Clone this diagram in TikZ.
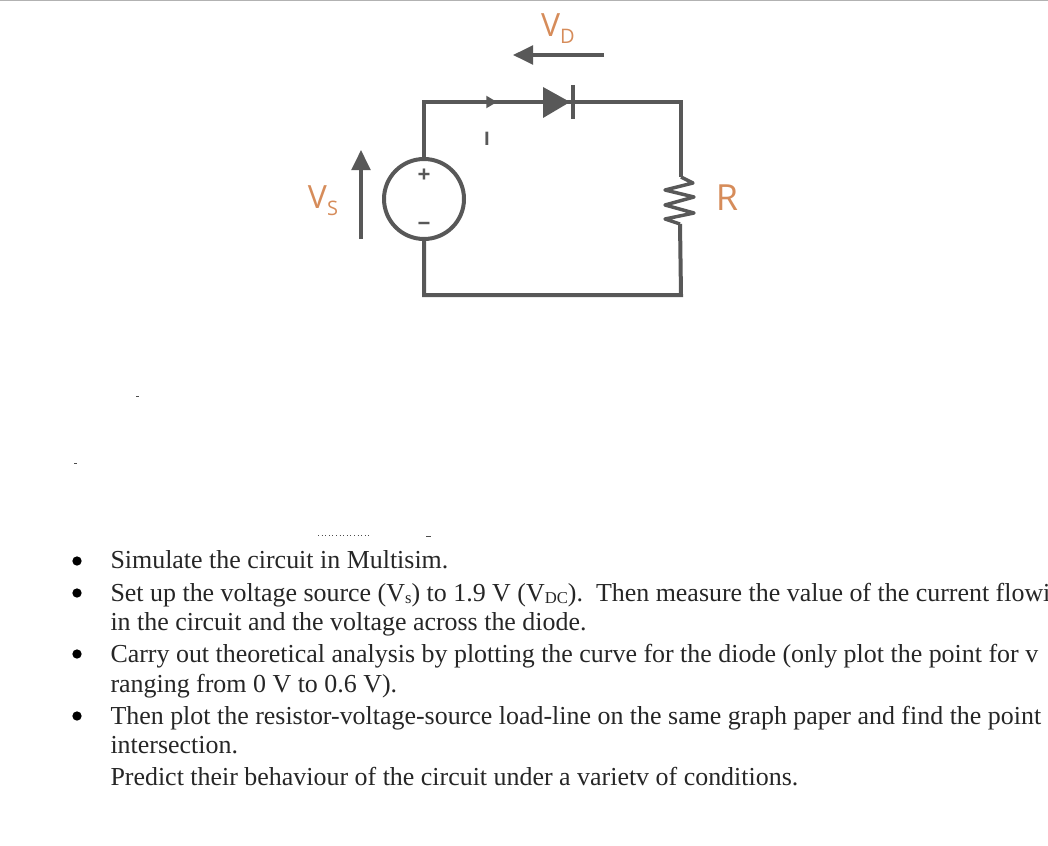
\documentclass[tikz,border=0pt]{standalone}
\usepackage{fontspec}
\setmainfont{Liberation Serif}
\newfontfamily\labelfont{Open Sans}
\usetikzlibrary{arrows.meta}
\definecolor{wirecol}{RGB}{88,88,88}
\definecolor{labelcol}{RGB}{214,140,90}
\definecolor{inkcol}{RGB}{38,38,38}
\newcommand{\lowtxt}[1]{\raisebox{-0.2ex}{\fontsize{12.5}{13}\selectfont #1}}
\tikzset{
  every picture/.style={line width=0.75pt},
  wire/.style={draw=wirecol,line width=3pt},
  volt/.style={draw=wirecol,line width=2.4pt,-{Triangle[length=15pt,width=14pt]}},
  sign/.style={text=wirecol,font=\labelfont\bfseries\fontsize{17}{17}\selectfont,inner sep=0pt},
  labeltxt/.style={text=labelcol,font=\labelfont\fontsize{24}{24}\selectfont,inner sep=0pt},
  line/.style={anchor=base west,inner sep=0pt,text=inkcol,font=\fontsize{19.45}{21}\selectfont},
  bullet/.style={circle,fill=black,inner sep=0pt,minimum size=7pt},
  speck/.style={draw=black!70,line width=0.7pt}
}
\begin{document}
\begin{tikzpicture}[x=0.75pt,y=0.75pt,yscale=-1,xscale=1]
	\useasboundingbox[clip] (0,0) rectangle (1048,845);
	%page edge
	\draw [draw=black!30,line width=1.5pt] (0,0.5) -- (1048,0.5);

	%Shape: Circle
	\node (src) at (424,199) [circle,wire,fill=white,minimum size=60pt,inner sep=0pt] {};
	\node (plus) at (424,176) [sign] {+};
	\node (minus) at (424,227) [sign] {\textminus};

	%Corners and ends
	\coordinate (cornerTL) at (424,102);
	\coordinate (cornerTR) at (681,102);
	\coordinate (cornerBR) at (681,295);
	\coordinate (cornerBL) at (424,295);
	\coordinate (dioBarT) at (573,85);
	\coordinate (dioBarB) at (573,119);
	\coordinate (resTop) at (681,177);
	\coordinate (resBot) at (680,224);

	%Straight Lines
	\draw [wire,line join=miter] (src.north) -- (cornerTL) -- (cornerTR) -- (resTop);
	\draw [wire,line join=miter] (resBot) -- (cornerBR) -- (cornerBL) -- (src.south);

	%Shape: Diode
	\fill [wirecol] (543,87) -- (570,102) -- (543,118) -- cycle;
	\draw [wire,line width=2.6pt] (dioBarT) -- (dioBarB);

	%Shape: Resistor
	\draw [wire,line width=2.6pt,line join=round] (resTop) -- (693,183) -- (665,190) -- (694,197) -- (665,205) -- (694,213) -- (665,219) -- (resBot);

	%Current arrow
	\coordinate (curBack) at (480,102);
	\coordinate (curTip) at (497,102);
	\draw [draw=wirecol,line width=1.5pt,-{Triangle[length=8pt,width=9pt]}] (curBack) -- (curTip);

	%Voltage arrows
	\coordinate (vsBot) at (361,239);
	\coordinate (vsTop) at (361,150);
	\coordinate (vdRight) at (604,55);
	\coordinate (vdLeft) at (513,55);
	\draw [volt] (vsBot) -- (vsTop);
	\draw [volt] (vdRight) -- (vdLeft);

	% Text Node
	\node (vdtxt) at (558,29) [labeltxt] {V\raisebox{-0.4ex}{\fontsize{15}{15}\selectfont D}};
	\node (vstxt) at (323,201) [labeltxt] {V\raisebox{-0.4ex}{\fontsize{15}{15}\selectfont S}};
	\node (rtxt) at (727,198) [labeltxt,font=\labelfont\fontsize{27}{27}\selectfont] {R};
	\node (itxt) at (487,139) [text=wirecol,font=\labelfont\bfseries\fontsize{14}{14}\selectfont,inner sep=0pt] {I};

	%Specks
	\draw [speck] (136,396) -- (139,396);
	\draw [speck] (74,463) -- (77,463);
	\draw [speck,dotted] (318,535) -- (369,535);
	\draw [speck] (426,536) -- (431,536);

	% Bullets
	\node (bulA) at (77,561) [bullet] {};
	\node (bulB) at (77,593) [bullet] {};
	\node (bulC) at (77,654) [bullet] {};
	\node (bulD) at (77,716) [bullet] {};

	% Text Node
	\node (lineA) at (110,568) [line] {Simulate the circuit in Multisim.};
	\node (lineB) at (110,601) [line] {Set up the voltage source (V\lowtxt{s}) to 1.9 V (V\lowtxt{DC}).\ \ Then measure the value of the current flowin};
	\node (lineC) at (110,630) [line] {in the circuit and the voltage across the diode.};
	\node (lineD) at (110,662) [line] {Carry out theoretical analysis by plotting the curve for the diode (only plot the point for v};
	\node (lineE) at (110,692) [line] {ranging from 0 V to 0.6 V).};
	\node (lineF) at (110,724) [line] {Then plot the resistor-voltage-source load-line on the same graph paper and find the point};
	\node (lineG) at (110,753) [line] {intersection.};
	\node (lineH) at (110,785) [line] {Predict their behaviour of the circuit under a varietv of conditions.};

\end{tikzpicture}
\end{document}
